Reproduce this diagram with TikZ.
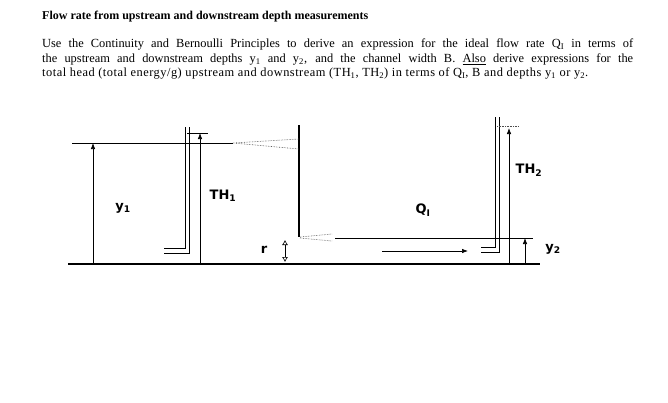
\documentclass[tikz,border=0pt]{standalone}
\usepackage{fontspec}
\usetikzlibrary{arrows.meta}
\setmainfont{Liberation Serif}
\newfontfamily\lblfont{DejaVu Sans}
\begin{document}
\begin{tikzpicture}[x=1pt,y=-1pt,
  thin line/.style={line width=0.7pt},
  lbl/.style={font=\lblfont\bfseries\fontsize{13}{15}\selectfont, inner sep=0},
  arr/.style={-{Latex[length=6pt,width=4.5pt]}, line width=0.7pt},
  dots/.style={densely dotted, line width=0.6pt, black!70}]
\useasboundingbox (0,0) rectangle (668,402);
\node[anchor=west, font=\bfseries\fontsize{12}{14}\selectfont, inner sep=0] (title) at (42,17) {Flow rate from upstream and downstream depth measurements};
\node[anchor=north west, text width=591pt, align=justify, inner sep=0, font=\fontsize{12.4}{14.5}\selectfont] (para) at (42,39)
{Use the Continuity and Bernoulli Principles to derive an expression for the ideal flow rate Q\textsubscript{I} in terms of\linebreak
the upstream and downstream depths y\textsubscript{1} and y\textsubscript{2}, and the channel width B. \underline{Also} derive expressions for the\linebreak
{\addfontfeature{LetterSpace=4}total head (total energy/g) upstream and downstream (TH\textsubscript{1}, TH\textsubscript{2}) in terms of Q\textsubscript{I}, B and depths y\textsubscript{1} or y\textsubscript{2}.}};
% bed
\coordinate (bedL) at (68,264); \coordinate (bedR) at (540,264);
\draw[line width=2.5pt] (bedL) -- (bedR);
% gate
\coordinate (gT) at (299,125); \coordinate (gB) at (299,237);
\draw[line width=2.5pt] (gT) -- (gB);
% upstream surface
\coordinate (s1L) at (72,143); \coordinate (s1R) at (233,143);
\draw[thin line] (s1L) -- (s1R);
\draw[dots] (s1R) -- (299,139) (s1R) -- (299,149);
\draw[dots] (300,237) -- (332,234) (300,238) -- (332,241);
% downstream surface
\coordinate (s2L) at (335,238); \coordinate (s2R) at (533,238);
\draw[thin line] (s2L) -- (s2R);
% y1
\coordinate (y1b) at (93,264); \coordinate (y1t) at (93,143);
\draw[arr] (y1b) -- (y1t);
\node[lbl] (y1) at (123,208) {y\textsubscript{1}};
% pitot 1
\draw[thin line] (185,127) -- (185,248) -- (164,248);
\draw[thin line] (189,127) -- (189,253) -- (164,253);
\coordinate (th1b) at (200,264); \coordinate (th1t) at (200,133);
\draw[arr] (th1b) -- (th1t);
\draw[thin line] (187,133) -- (208,133);
\node[lbl] (th1) at (223,196) {TH\textsubscript{1}};
% r
\node[lbl] (r) at (264,250) {r};
\coordinate (rt) at (285,240); \coordinate (rb) at (285,262);
\draw[{Latex[length=5pt,width=6pt,open]}-{Latex[length=5pt,width=6pt,open]}, line width=0.6pt] (rt) -- (rb);
% Q
\coordinate (qa) at (382,251); \coordinate (qb) at (468,251);
\draw[arr] (qa) -- (qb);
\node[lbl] (q) at (423,210) {Q\textsubscript{I}};
% pitot 2
\draw[thin line] (495,117) -- (495,247) -- (481,247);
\draw[thin line] (499,117) -- (499,252) -- (481,252);
\coordinate (th2b) at (509,264); \coordinate (th2t) at (509,128);
\draw[arr] (th2b) -- (th2t);
\draw[dots] (497,126) -- (519,126);
\node[lbl] (th2) at (529,170) {TH\textsubscript{2}};
% y2
\coordinate (y2b) at (525,264); \coordinate (y2t) at (525,238);
\draw[arr] (y2b) -- (y2t);
\node[lbl] (y2) at (553,249) {y\textsubscript{2}};
\end{tikzpicture}
\end{document}
